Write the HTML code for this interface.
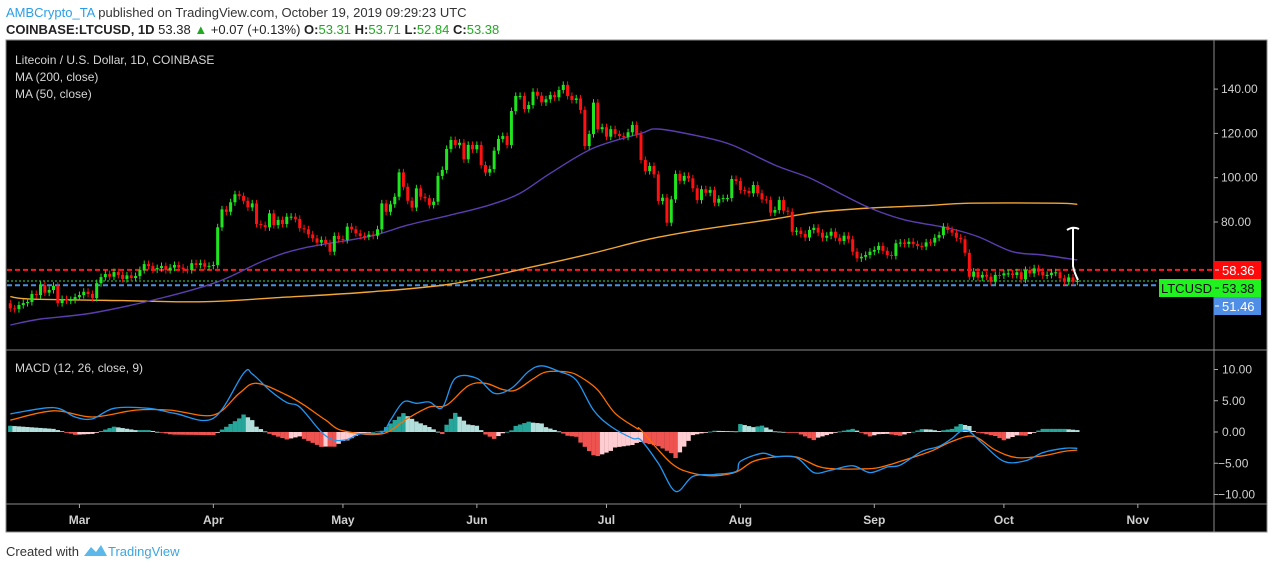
<!DOCTYPE html>
<html><head><meta charset="utf-8">
<style>
html,body{margin:0;padding:0;background:#fff;width:1274px;height:569px;overflow:hidden;font-family:"Liberation Sans",Arial,sans-serif}
svg{display:block}
</style></head>
<body>
<svg id="chart" width="1274" height="569" viewBox="0 0 1274 569" xmlns="http://www.w3.org/2000/svg">
  <text x="6" y="17" font-size="13" fill="#333" font-family="Liberation Sans, sans-serif"><tspan fill="#2b9fe6">AMBCrypto_TA</tspan> published on TradingView.com, October 19, 2019 09:29:23 UTC</text>
  <text x="6" y="34" font-size="13" fill="#222" font-family="Liberation Sans, sans-serif"><tspan font-weight="bold">COINBASE:LTCUSD, 1D</tspan> 53.38 <tspan fill="#22a822">▲</tspan> +0.07 (+0.13%) <tspan font-weight="bold">O:</tspan><tspan fill="#22a822">53.31</tspan> <tspan font-weight="bold">H:</tspan><tspan fill="#22a822">53.71</tspan> <tspan font-weight="bold">L:</tspan><tspan fill="#22a822">52.84</tspan> <tspan font-weight="bold">C:</tspan><tspan fill="#22a822">53.38</tspan></text>
  <rect x="6" y="40" width="1261" height="492" fill="#000" stroke="#8a8a8a" stroke-width="1"/>
  <defs>
    <clipPath id="mainClip"><rect x="7" y="41" width="1207" height="309"/></clipPath>
    <clipPath id="macdClip"><rect x="7" y="351" width="1207" height="153"/></clipPath>
  </defs>
  <g id="mainPane" clip-path="url(#mainClip)"></g>
  <g id="macdPane" clip-path="url(#macdClip)"></g>
  <g id="axes"></g>
  <text x="6" y="556" font-size="13" fill="#333" font-family="Liberation Sans, sans-serif">Created with</text>
  <g>
    <path d="M84 556 L91 547 L96 552 L101 545 L107 556 Z" fill="#5bb8e8"/>
    <text x="108" y="556" font-size="13" fill="#3aa6e0" font-family="Liberation Sans, sans-serif">TradingView</text>
  </g>
</svg>
<script>
// ---- data ----
const closes = [41,40.7,42.5,43.4,43.9,47.5,47,51.5,48.1,49.3,51.2,43.4,45.2,44.5,44.8,46.1,47,48.5,47.5,45.7,
52.4,55.1,56.5,55.3,57.4,56.1,54.3,55.9,54.7,55.6,58.3,61,60.1,58.6,59.2,60.1,58.3,59.4,60.6,59.4,
58.6,58.3,61.4,60.6,61.4,59.8,60.2,60.6,77.6,85.7,84.6,88.9,92.5,91.7,89.6,86.6,88.4,79.1,78.6,77.6,
83.9,78.6,80.9,79.1,82.4,82.4,81.4,77.2,76.7,74.4,72.6,70.7,71.9,70.4,66.6,73.7,72.3,71.9,77.9,76.7,
74.9,73.7,73.4,74.3,73.8,76.7,88.4,84.6,88,91.4,102.4,95.9,89.6,86.5,95.2,91.4,90.7,87.7,89.2,100.8,
103.5,113,117,114.8,115.8,108.3,114.8,112.8,114.8,105.7,102.3,103.9,112.2,117.5,118.8,114.8,130.1,136.9,136.9,131,
132.8,138.8,137,134,135.4,137.3,136.3,139.6,141.9,136.9,135.1,135.8,130.6,114.3,119.7,133.9,121.9,122.8,118.5,121.9,
119.7,118.8,118.5,120.5,123.8,119.6,108,103,105.3,101.5,89.5,91,79.7,90.2,101.7,98.6,100.8,99.7,95.2,89.9,
94.8,93.2,94.4,88.7,90.5,90.8,90.8,99.4,98.5,94.4,94,93,96.7,93,90.2,89.9,84.2,85.4,89.9,85.1,
84.6,75.6,76.1,74.6,73,76.4,77.4,75.2,72.9,73.8,75.6,72.9,71.4,73.8,72.2,66.6,63.6,64.3,65.1,66.6,
67.4,69.2,67,65.1,64.7,70.4,70.7,70.1,71.1,70,69.2,68.9,70.8,70.7,72.9,74.1,77.9,76.4,75.2,72.9,
72.2,66.1,55.3,57.6,54.9,56.1,55.3,53,56.1,55.9,56.8,56.8,56.1,57.3,54.1,58.3,56.8,59.1,57.6,55.9,
56.1,57.1,57.3,54.6,53,55,53,53.4];
const firstOpen = 43.3;
const ma50Days = [0,7,19,35,48,59,68,83,92,102,111,118,125,135,146,150,160,167,177,185,192,199,207,217,224,232,239,247];
const ma50Vals = [33.5,36.2,38.9,45.7,53,62.8,68.3,73.4,78.6,83.2,87.7,93,102,113.4,120,122,118.5,114.8,105.7,99.9,93,86.3,81,77.3,73.4,66.6,65.1,62.9];
const ma200Days = [0,5,26,45,64,83,102,121,135,147,157,167,177,187,199,212,222,242,247];
const ma200Vals = [46.3,45.2,44.5,44,46.1,48.4,52,59.8,66,71.9,75.6,78.6,81.4,84.5,86.3,87.4,88.5,88.5,88];
const macdDays = [0,10,15,19,24,32,38,47,54,56,60,64,67,72,75,78,81,86,88,91,94,97,100,103,108,112,116,120,123,127,131,135,139,144,146,150,154,158,163,168,169,174,177,182,186,190,195,199,203,206,211,215,218,220,222,225,230,235,239,244,247];
const macdVals = [2.9,3.9,2.4,2.1,3.8,3.8,3.0,2.2,9.4,9.3,6.7,4.7,4.0,0,-1.3,-1.2,-0.3,-0.1,1.9,4.8,4.6,4.8,3.9,8.6,8.6,6.2,7.0,9.7,10.6,9.7,8.3,3.5,0.9,-1.0,-1.3,-5,-9.5,-7.1,-6.8,-6.3,-4.7,-3.4,-3.9,-4.1,-6.5,-6.1,-5.4,-6.5,-5.6,-5.3,-3.1,-2.3,-1.0,0.1,0.1,-1.8,-4.7,-4.6,-3.3,-2.6,-2.6];
const signalDays = [0,10,19,29,37,47,53,57,64,68,73,77,86,92,97,101,106,110,114,117,121,124,129,132,136,140,145,146,153,158,163,168,172,177,182,187,191,197,201,206,213,218,223,228,233,239,244,247];
const signalVals = [1.9,3.4,2.4,3.5,3.5,2.7,6.2,7.8,5.9,4.3,1.9,0.2,-0.3,2.2,4.0,4.3,7.4,7.8,6.8,6.7,8.5,9.6,9.6,8.8,6.7,3.0,0.6,0.3,-5,-6.6,-7.0,-6.4,-4.7,-4.0,-4.0,-5.5,-5.9,-5.9,-5.7,-4.7,-3.1,-1.5,-0.7,-2.9,-4.1,-3.8,-3.1,-2.9];
const priceTicks = [140,120,100,80,40];
const macdTicks = [10,5,0,-5,-10];
const monthLabels = ["Mar","Apr","May","Jun","Jul","Aug","Sep","Oct","Nov"];
const monthDays = [16,47,77,108,138,169,200,230,261];
const levelPrices = [58.36,53.38,51.46];

// ---- scales ----
const NS = "http://www.w3.org/2000/svg";
const xI = i => 10.3 + i * 4.32;
const yP = p => 222 - (p - 80) * 2.215;
const yM = v => 432 - v * 6.25;
function mk(tag, attrs, parent){const e=document.createElementNS(NS,tag);for(const k in attrs)e.setAttribute(k,attrs[k]);parent.appendChild(e);return e;}
function interp(days, vals, d){
  if(d<=days[0])return vals[0];
  for(let k=1;k<days.length;k++){if(d<=days[k]){const t=(d-days[k-1])/(days[k]-days[k-1]);return vals[k-1]+t*(vals[k]-vals[k-1]);}}
  return vals[vals.length-1];
}
const main = document.getElementById('mainPane');
const macdG = document.getElementById('macdPane');
const axes = document.getElementById('axes');

// legend
[["Litecoin / U.S. Dollar, 1D, COINBASE",64,"legend-title"],["MA (200, close)",81,"legend-ma200"],["MA (50, close)",98,"legend-ma50"]].forEach(r=>{
  const t=mk('text',{x:15,y:r[1],'font-size':12,fill:'#d6d6d6','font-family':'Liberation Sans, sans-serif'},axes);
  
  
  t.textContent=r[0];
});
const mt=mk('text',{x:15,y:372,'font-size':12,fill:'#d6d6d6','font-family':'Liberation Sans, sans-serif'},axes);


mt.textContent="MACD (12, 26, close, 9)";

// level lines
const lvlStyles=[["#ff1a1a",2,"5 3"],["#3ddc3d",1,"2 2"],["#4a8fe6",2,"5 3"]];
levelPrices.forEach((p,k)=>{
  const l=mk('line',{x1:7,x2:1214,y1:yP(p),y2:yP(p),stroke:lvlStyles[k][0],'stroke-width':lvlStyles[k][1],'stroke-dasharray':lvlStyles[k][2]},main);
  
  
});

// smooth line (Catmull-Rom)
function linePath(days, vals, yf){
  const pts=days.map((d,k)=>[xI(d),yf(vals[k])]);
  let s='M'+pts[0][0].toFixed(1)+' '+pts[0][1].toFixed(1);
  for(let k=0;k<pts.length-1;k++){
    const p0=pts[Math.max(0,k-1)],p1=pts[k],p2=pts[k+1],p3=pts[Math.min(pts.length-1,k+2)];
    const c1=[p1[0]+(p2[0]-p0[0])/6,p1[1]+(p2[1]-p0[1])/6];
    const c2=[p2[0]-(p3[0]-p1[0])/6,p2[1]-(p3[1]-p1[1])/6];
    s+=' C'+c1[0].toFixed(1)+' '+c1[1].toFixed(1)+' '+c2[0].toFixed(1)+' '+c2[1].toFixed(1)+' '+p2[0].toFixed(1)+' '+p2[1].toFixed(1);
  }
  return s;
}
const m200=mk('path',{d:linePath(ma200Days,ma200Vals,yP),fill:'none',stroke:'#f2a634','stroke-width':1.4},main);


const m50=mk('path',{d:linePath(ma50Days,ma50Vals,yP),fill:'none',stroke:'#5b3db0','stroke-width':1.4},main);



// candles
closes.forEach((c,i)=>{
  const o = i===0 ? firstOpen : closes[i-1];
  const up = c>=o;
  const col = up ? '#1fe51f' : '#ff1111';
  const hi = Math.max(o,c)+1.6, lo = Math.min(o,c)-1.6;
  const x = xI(i);
  const g=mk('g',{},main);
  
  
  mk('line',{x1:x,x2:x,y1:yP(hi),y2:yP(lo),stroke:col,'stroke-width':1},g);
  const top=yP(Math.max(o,c)), h=Math.max(1,yP(Math.min(o,c))-top);
  mk('rect',{x:x-1.5,y:top,width:3,height:h,fill:col},g);
});

// annotation arrow
const arr=mk('path',{d:'M1073 228 L1073 266 Q1074 272 1078 280 M1067 230 Q1073 226 1079 229',fill:'none',stroke:'#fff','stroke-width':2},main);



// MACD histogram
let prevH = null;
for(let i=0;i<closes.length;i++){
  const h = interp(macdDays,macdVals,i)-interp(signalDays,signalVals,i);
  let col;
  if(h>=0) col = (prevH===null||h>=prevH)?'#26a69a':'#b2dfdb';
  else col = (prevH===null||h<=prevH)?'#ef5350':'#ffcdd2';
  prevH=h;
  const y0=yM(0), y1=yM(h);
  const b=mk('rect',{x:xI(i)-2.2,y:Math.min(y0,y1),width:4.4,height:Math.max(0.8,Math.abs(y1-y0)),fill:col},macdG);
  
  
}
const sig=mk('path',{d:linePath(signalDays,signalVals,yM),fill:'none',stroke:'#ff6d00','stroke-width':1.3},macdG);


const mac=mk('path',{d:linePath(macdDays,macdVals,yM),fill:'none',stroke:'#2196f3','stroke-width':1.3},macdG);



// frame lines
[[6,350,1267,350],[6,504,1267,504],[1214,40,1214,532]].forEach(s=>{
  const l=mk('line',{x1:s[0],y1:s[1],x2:s[2],y2:s[3],stroke:'#8a8a8a','stroke-width':1},axes);
  
  
});

// price axis
priceTicks.forEach(p=>{
  mk('line',{x1:1214,x2:1218,y1:yP(p),y2:yP(p),stroke:'#aaa'},axes);
  const t=mk('text',{x:1221,y:yP(p)+4,'font-size':12,fill:'#d0d0d0','font-family':'Liberation Sans, sans-serif'},axes);
  
  
  t.textContent=p.toFixed(2);
});
// price label boxes
const boxCols=['#ff0a0a','#1ff21f','#4f8ee6'];
const boxText=['#fff','#111','#fff'];
const boxY=[261,279,297];
levelPrices.forEach((p,k)=>{
  const g=mk('g',{},axes);
  
  
  mk('rect',{x:1214,y:boxY[k],width:47,height:18,fill:boxCols[k]},g);
  mk('line',{x1:1215,x2:1219,y1:boxY[k]+9,y2:boxY[k]+9,stroke:boxText[k]},g);
  const t=mk('text',{x:1222,y:boxY[k]+14,'font-size':13,fill:boxText[k],'font-family':'Liberation Sans, sans-serif'},g);
  t.textContent=p.toFixed(2);
});
const sym=mk('g',{},axes);


mk('rect',{x:1159,y:279,width:55,height:18,fill:'#1ff21f'},sym);
const st=mk('text',{x:1186.5,y:293,'font-size':13,fill:'#111','text-anchor':'middle','font-family':'Liberation Sans, sans-serif'},sym);
st.textContent='LTCUSD';

// MACD axis
macdTicks.forEach(v=>{
  mk('line',{x1:1214,x2:1218,y1:yM(v),y2:yM(v),stroke:'#aaa'},axes);
  const t=mk('text',{x:v<0?1218:1222,y:yM(v)+4,'font-size':12,fill:'#d0d0d0','font-family':'Liberation Sans, sans-serif'},axes);
  
  
  t.textContent=(v<0?'\u2212':'')+Math.abs(v).toFixed(2);
});

// time axis
monthLabels.forEach((m,k)=>{
  const x=xI(monthDays[k]);
  mk('line',{x1:x,x2:x,y1:504,y2:508,stroke:'#aaa'},axes);
  const t=mk('text',{x:x,y:524,'font-size':12,'font-weight':'bold',fill:'#d0d0d0','text-anchor':'middle','font-family':'Liberation Sans, sans-serif'},axes);
  
  
  t.textContent=m;
});
</script>
</body></html>
